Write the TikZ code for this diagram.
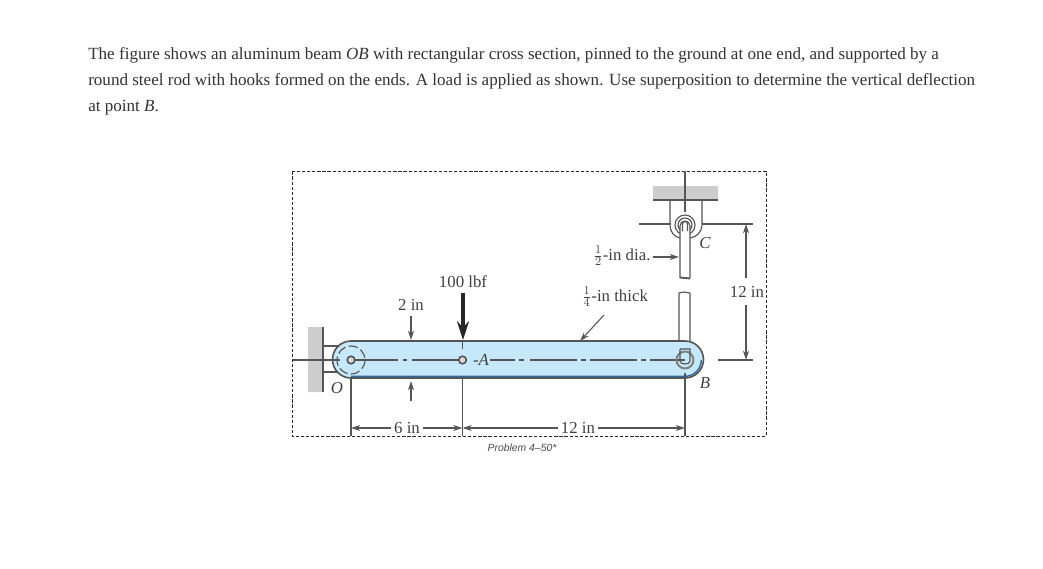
\documentclass[tikz,border=0pt]{standalone}
\usepackage{fontspec}
\setmainfont{Liberation Serif}
\setsansfont{Liberation Sans}
\usetikzlibrary{arrows.meta}
\definecolor{beamblue}{RGB}{197,232,250}
\definecolor{edgeblue}{RGB}{50,105,160}
\definecolor{wallgray}{RGB}{205,205,205}
\definecolor{inkgray}{RGB}{85,85,85}
\tikzset{
  para/.style={anchor=base west,inner sep=0pt,font=\fontsize{12.8}{15}\selectfont,text=black!80},
  lbl/.style={inner sep=0pt,font=\fontsize{12.6}{15}\selectfont,text=black!75},
  dimlbl/.style={lbl,inner xsep=2pt},
  dim/.style={draw=inkgray,line width=0.8pt},
  dimarrow/.style={dim,-{Stealth[length=7pt,width=4.5pt]}},
  thin line/.style={draw=inkgray,line width=0.85pt},
}
\begin{document}
\begin{tikzpicture}[x=0.75pt,y=-0.75pt]
            \useasboundingbox (0,0) rectangle (1043,568);
            \node[para] (line1) at (88,59) {The figure shows an aluminum beam \textit{OB} with rectangular cross section, pinned to the ground at one end, and supported by a};
            \node[para] (line2) at (88,85) {round steel rod with hooks formed on the ends. A load is applied as shown. Use superposition to determine the vertical deflection};
            \node[para] (line3) at (88,111) {at point \textit{B}.};
            \draw [dash pattern=on 2.4pt off 1.4pt,line width=0.6pt,draw=black!85] (292,171) -- (766,171) -- (766,436) -- (292,436) -- (292,171);
            \pgfmathsetmacro{\xo}{351};
            \pgfmathsetmacro{\xa}{462.5};
            \pgfmathsetmacro{\xb}{685};
            \pgfmathsetmacro{\yc}{360};
            \draw [fill = wallgray,draw = none] (308,327) -- (323,327) -- (323,392) -- (308,392) -- (308,327);
            \draw [thin line] (323,327) -- (323,392);
            \draw [thin line] (323,346) -- (342,346);
            \draw [thin line] (323,372) -- (342,372);
            \draw [fill = wallgray,draw = none] (653,186) -- (718,186) -- (718,200) -- (653,200) -- (653,186);
            \draw [thin line] (653,200) -- (718,200);
            \draw [fill = beamblue,draw = inkgray,line width=1.2pt] (\xo,341) -- (\xb,341) arc (-90:90:18.5) -- (\xo,378) arc (90:270:18.5);
            \draw [edgeblue,line width=1.1pt] (\xo,376.3) -- (\xb,376.3) arc (90:0:16.3);
            \draw [thin line] (293,\yc) -- (340,\yc);
            \draw [thin line] (\xo,\yc) -- (398,\yc);
            \draw [thin line] (403,\yc) -- (407,\yc);
            \draw [thin line] (412,\yc) -- (\xa,\yc);
            \draw [thin line] (490,\yc) -- (515,\yc);
            \draw [thin line] (519,\yc) -- (524,\yc);
            \draw [thin line] (530,\yc) -- (577,\yc);
            \draw [thin line] (581,\yc) -- (586,\yc);
            \draw [thin line] (590,\yc) -- (637,\yc);
            \draw [thin line] (641,\yc) -- (646,\yc);
            \draw [thin line] (650,\yc) -- (\xb,\yc);
            \draw [thin line,dash pattern=on 7pt off 2.5pt] (\xo,\yc) circle (14);
            \draw [fill = white!70!gray,draw = inkgray,line width=1.2pt] (\xo,\yc) circle (3.8);
            \draw [fill = white!70!gray,draw = inkgray,line width=1.2pt] (\xa,\yc) circle (3.8);
            \draw [draw = gray,line width=1.5pt] (\xb,\yc) circle (8.5);
            \draw [thin line] (680,349) -- (690,349) -- (690,361) .. controls (690,365) and (680,365) .. (680,361) -- (680,349);
            \draw [thin line] (679,341) -- (679,293) -- (684,292) -- (690,293) -- (690,341);
            \draw [thin line] (685,171) -- (685,212);
            \draw [thin line] (\xb,225) circle (10);
            \draw [thin line] (\xb,225) circle (7);
            \draw [fill = white,thin line] (680,278) -- (680,226) arc (180:360:5) -- (690,278);
            \draw [thin line] (682.5,231) -- (682.5,224) arc (180:360:2.5) -- (687.5,231);
            \draw [inkgray,line width=1.4pt] (680,277.5) -- (690,278.5);
            \draw [thin line] (670,200) -- (670,224) .. controls (670,232) and (674,237) .. (680,238);
            \draw [thin line] (702,200) -- (702,224) .. controls (702,232) and (697,237) .. (690,238);
            \draw [thin line] (639,224) -- (671,224);
            \draw [thin line] (702,224) -- (753,224);
            \draw [thin line] (718,\yc) -- (753,\yc);
            \draw [dim] (\xo,378) -- (\xo,436);
            \draw [dim] (\xa,378) -- (\xa,436);
            \draw [dim] (\xa,341) -- (\xa,349);
            \draw [dim] (\xb,373) -- (\xb,436);
            \node[lbl] (load) at (463,282) {100 lbf};
            \node[lbl] (wid) at (411,305) {2 in};
            \node[dimlbl] (six) at (407,428) {6 in};
            \node[dimlbl] (twelve) at (578,428) {12 in};
            \node[lbl] (rodlen) at (747,292) {12 in};
            \node[lbl] (dia) at (622,256) {$\frac{1}{2}$-in dia.};
            \node[lbl] (thick) at (615,297) {$\frac{1}{4}$-in thick};
            \node[lbl] (labA) at (481,360) {-\textit{A}};
            \node[lbl] (labO) at (337,388) {\textit{O}};
            \node[lbl] (labB) at (705,383) {\textit{B}};
            \node[lbl] (labC) at (705,243) {\textit{C}};
            \node[inner sep=0pt,font=\sffamily\itshape\fontsize{7.8}{9}\selectfont,text=black!70] (prob) at (522,448) {Problem 4--50*};
            \draw [-{Stealth[length=14pt,width=9pt]},line width=2.4pt,draw=black!85] (load.south) ++(0,5) -- (463,340);
            \draw [dimarrow] (wid.south) ++(0,5) -- (411,340);
            \draw [dimarrow] (411,401) -- (411,381);
            \draw [dimarrow] (six.west) -- (\xo,428);
            \draw [dimarrow] (six.east) -- (\xa,428);
            \draw [dimarrow] (twelve.west) -- (\xa,428);
            \draw [dimarrow] (twelve.east) -- (\xb,428);
            \draw [dimarrow] (dia.east) ++(2,1) -- (679,257);
            \draw [dimarrow] (604,315) -- (580,341);
            \draw [dimarrow] (746,278) -- (746,224);
            \draw [dimarrow] (746,305) -- (746,\yc);
\end{tikzpicture}
\end{document}
